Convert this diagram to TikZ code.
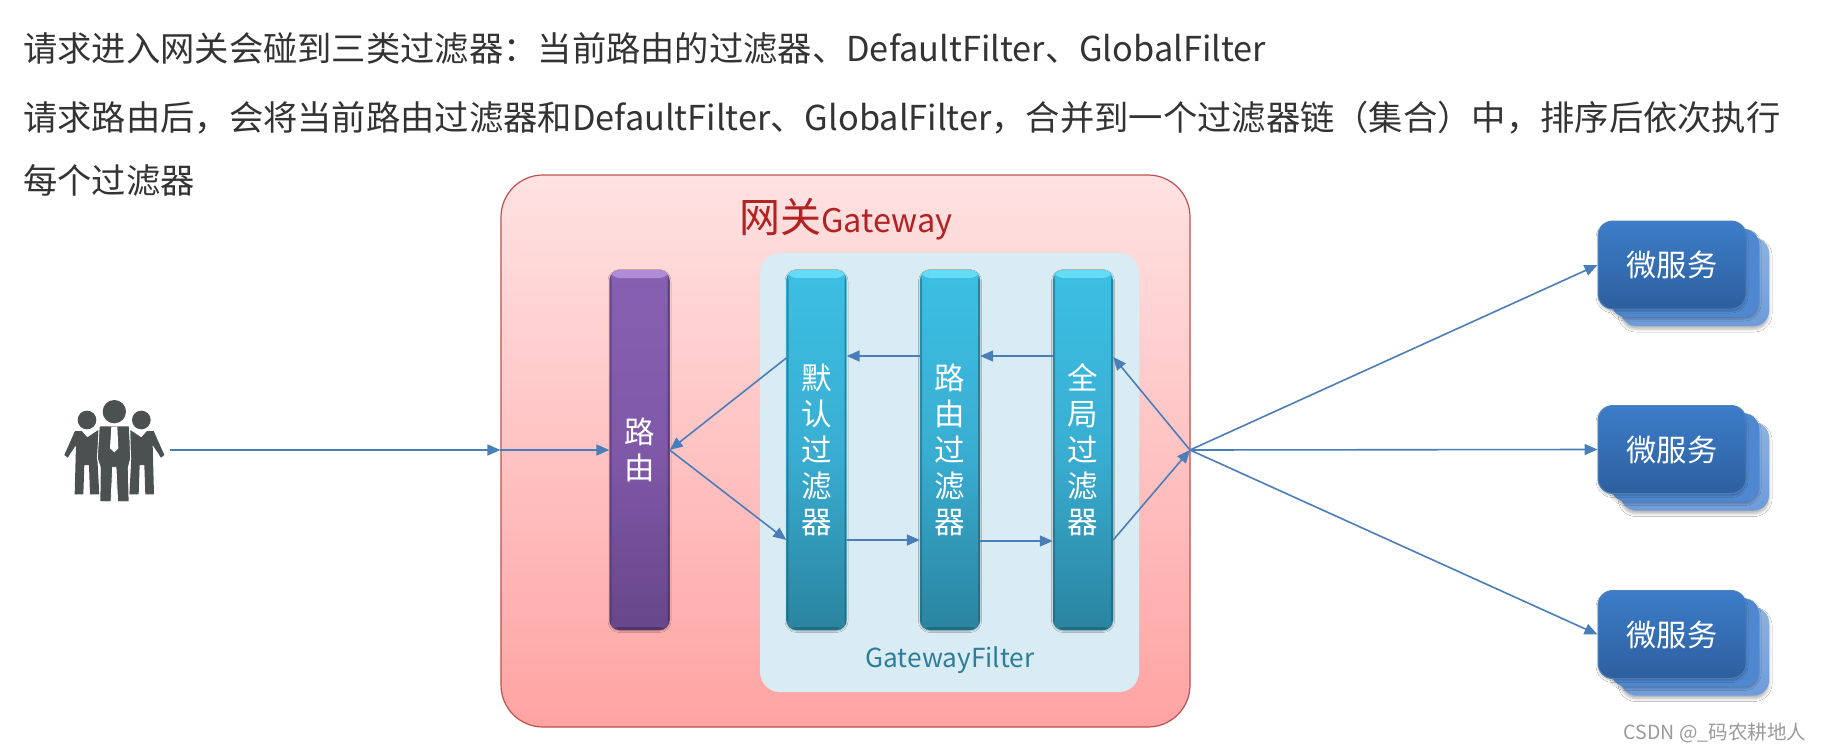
\documentclass[tikz,border=0pt]{standalone}
\usepackage{fontspec}
\setmainfont{Noto Sans CJK SC}
\usetikzlibrary{arrows.meta,shadows.blur,calc}
\definecolor{flow}{HTML}{4A7EBB}
\definecolor{inktext}{HTML}{333333}
\definecolor{figure}{HTML}{4A5150}
\definecolor{gwtop}{HTML}{FFE2E2}
\definecolor{gwbot}{HTML}{FFA3A3}
\definecolor{gwline}{HTML}{C0504D}
\definecolor{panelfill}{HTML}{DAECF3}
\definecolor{gwtitlec}{HTML}{B22222}
\definecolor{gwfilterc}{HTML}{2E7D9A}
\definecolor{rtop}{HTML}{8660B2}
\definecolor{rmid}{HTML}{8058A8}
\definecolor{rbot}{HTML}{67468A}
\definecolor{rhigh}{HTML}{C4A0E8}
\definecolor{rdark}{HTML}{3F2A58}
\definecolor{ftop}{HTML}{3BBFE3}
\definecolor{fmid}{HTML}{39AED2}
\definecolor{fbot}{HTML}{2A849F}
\definecolor{fhigh}{HTML}{70E4FA}
\definecolor{fdark}{HTML}{1C5F72}
\definecolor{sftop}{HTML}{3C7DC9}
\definecolor{sfbot}{HTML}{2E5F9E}
\definecolor{sfline}{HTML}{4F7FB8}
\definecolor{smid}{HTML}{4F88D0}
\definecolor{sbtop}{HTML}{8DB2E0}
\definecolor{sbbot}{HTML}{6E9CD9}
\definecolor{markc}{HTML}{9A9A9A}
\tikzset{
  x=1pt,y=-1pt,
  flowline/.style={draw=flow,line width=1.6pt,-{Triangle[length=13pt,width=11pt]}},
  headline/.style={anchor=west,text=inktext,inner sep=0pt,font=\fontsize{34.3}{40}\selectfont},
  gatebox/.style={draw=none,minimum width=60pt,minimum height=360pt,rounded corners=10pt,inner sep=0pt,align=center,
     text=white,font=\fontsize{30.5}{36}\selectfont,blur shadow={shadow xshift=0pt,shadow yshift=-1pt,shadow blur radius=1.5pt,shadow opacity=30}},
  routerbox/.style={gatebox,top color=rtop,bottom color=rbot,middle color=rmid,
     path picture={
       \fill[rhigh,opacity=.7] (path picture bounding box.north west) rectangle ([yshift=-8pt]path picture bounding box.north east);
       \fill[rdark,opacity=.45] (path picture bounding box.north west) rectangle ([xshift=2pt]path picture bounding box.south west);
       \fill[rdark,opacity=.55] ([xshift=-2pt]path picture bounding box.north east) rectangle (path picture bounding box.south east);
       \fill[rdark,opacity=.55] ([yshift=3pt]path picture bounding box.south west) rectangle (path picture bounding box.south east);
     }},
  filterbox/.style={gatebox,top color=ftop,bottom color=fbot,middle color=fmid,
     path picture={
       \fill[fhigh,opacity=.8] (path picture bounding box.north west) rectangle ([yshift=-8pt]path picture bounding box.north east);
       \fill[fdark,opacity=.5] (path picture bounding box.north west) rectangle ([xshift=2pt]path picture bounding box.south west);
       \fill[fdark,opacity=.6] ([xshift=-2pt]path picture bounding box.north east) rectangle (path picture bounding box.south east);
       \fill[fdark,opacity=.6] ([yshift=3pt]path picture bounding box.south west) rectangle (path picture bounding box.south east);
     }},
  svcfront/.style={minimum width=148pt,minimum height=88pt,rounded corners=15pt,inner sep=0pt,
     top color=sftop,bottom color=sfbot,draw=sfline,line width=1pt,text=white,font=\fontsize{30.3}{34}\selectfont,
     blur shadow={shadow xshift=0pt,shadow yshift=-2pt,shadow blur radius=2pt,shadow opacity=25}},
  svcmid/.style={minimum width=148pt,minimum height=88pt,rounded corners=15pt,inner sep=0pt,fill=smid,
     blur shadow={shadow xshift=0pt,shadow yshift=-2pt,shadow blur radius=2pt,shadow opacity=25}},
  svcback/.style={minimum width=148pt,minimum height=88pt,rounded corners=15pt,inner sep=0pt,top color=sbtop,bottom color=sbbot,
     blur shadow={shadow xshift=0pt,shadow yshift=-3pt,shadow blur radius=3pt,shadow opacity=30}},
}
\begin{document}
\begin{tikzpicture}
\useasboundingbox (0,0) rectangle (1821,752);
\fill[white] (0,0) rectangle (1821,752);

\node[headline] (line1) at (23,48) {请求进入网关会碰到三类过滤器：当前路由的过滤器、DefaultFilter、GlobalFilter};
\node[headline] (line2) at (23,118) {请求路由后，会将当前路由过滤器和DefaultFilter、GlobalFilter，合并到一个过滤器链（集合）中，排序后依次执行};
\node[headline] (line3) at (23,180) {每个过滤器};

\node[minimum width=689pt,minimum height=552pt,rounded corners=42pt,inner sep=0pt,
      top color=gwtop,bottom color=gwbot,draw=gwline,line width=1.2pt] (gateway) at (845.5,451) {};
\node[minimum width=379pt,minimum height=439pt,rounded corners=20pt,inner sep=0pt,fill=panelfill] (panel) at (949.5,472.5) {};
\node[text=gwtitlec,inner sep=0pt,font=\fontsize{32.5}{36}\selectfont] (gwtitle) at (846,219) {{\fontsize{41}{44}\selectfont 网关}Gateway};
\node[text=gwfilterc,inner sep=0pt,font=\fontsize{26.2}{30}\selectfont] (gwfilter) at (950,660) {GatewayFilter};

\node[routerbox] (router) at (639.5,450) {路\\由};
\node[filterbox] (default) at (816.5,450) {默\\认\\过\\滤\\器};
\node[filterbox] (route) at (950,450) {路\\由\\过\\滤\\器};
\node[filterbox] (global) at (1083,450) {全\\局\\过\\滤\\器};

% service stacks
\node[svcback] (backone) at (1695,282) {};
\node[svcmid] (midone) at (1685,273) {};
\node[svcfront] (svcone) at (1672,265) {微服务};
\node[svcback] (backtwo) at (1695,466.5) {};
\node[svcmid] (midtwo) at (1685,457.5) {};
\node[svcfront] (svctwo) at (1672,449.5) {微服务};
\node[svcback] (backthree) at (1695,651.5) {};
\node[svcmid] (midthree) at (1685,642.5) {};
\node[svcfront] (svcthree) at (1672,634.5) {微服务};

% people icon
\begin{scope}[shift={(40,380)},scale=1/3]
  \fill[figure] (141,120) circle (28);
  \fill[figure] (304,120) circle (28);
  \fill[figure] (105,153) -- (125,153) -- (142,172) -- (175,150) -- (175,235) -- (172,235) -- (178,343) -- (150,343) -- (147,255) -- (133,255) -- (130,343) -- (104,343) -- (108,195) -- (83,233) -- (73,225) -- cycle;
  \fill[figure] (341,153) -- (321,153) -- (304,172) -- (271,150) -- (271,235) -- (274,235) -- (268,343) -- (296,343) -- (299,255) -- (313,255) -- (316,343) -- (342,343) -- (338,195) -- (363,233) -- (373,225) -- cycle;
  \fill[figure] (223,95) circle (35);
  \filldraw[fill=figure,draw=white,line width=.8pt] (178,138) -- (268,138) -- (272,235) -- (265,262) -- (267,365) -- (233,365) -- (228,262) -- (218,262) -- (213,365) -- (180,365) -- (181,262) -- (172,235) -- cycle;
  \fill[white] (214,140) -- (232,140) -- (235,205) -- (223,217) -- (210,205) -- cycle;
\end{scope}
\coordinate (userout) at (170,450);
\coordinate (hub) at (1190,450);

% connectors
\draw[flowline] (userout) -- (gateway.west |- userout);
\draw[flowline] (gateway.west |- userout) -- (router.west |- userout);
\draw[flowline] ([yshift=92pt]default.west) -- (router.east);
\draw[flowline] (router.east) -- ([yshift=-90pt]default.west);
\draw[flowline] ([yshift=94pt]route.west) -- ([yshift=94pt]default.east);
\draw[flowline] ([yshift=94pt]global.west) -- ([yshift=94pt]route.east);
\draw[flowline] ([yshift=-90pt]default.east) -- ([yshift=-90pt]route.west);
\draw[flowline] ([yshift=-91pt]route.east) -- ([yshift=-91pt]global.west);
\draw[flowline] ([yshift=-90pt]global.east) -- (hub);
\draw[flowline] (hub) -- ([yshift=93pt]global.east);
\draw[flowline] (hub) -- (svcone.west);
\draw[flowline] (hub) -- (svctwo.west);
\draw[flowline] (hub) -- (svcthree.west);

\node[text=markc,inner sep=0pt,font=\fontsize{19.5}{22}\selectfont] (mark) at (1715,733) {CSDN @\_码农耕地人};
\end{tikzpicture}
\end{document}
